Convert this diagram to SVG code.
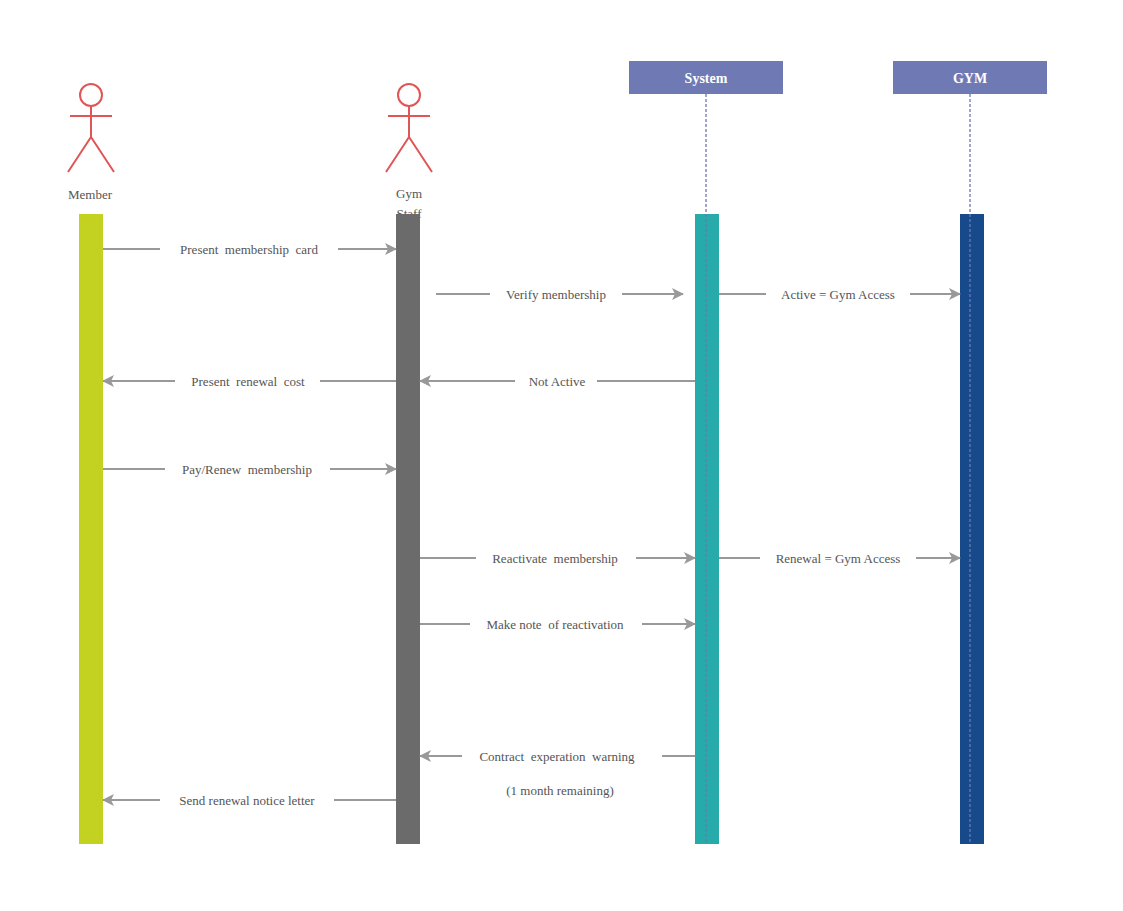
<svg xmlns="http://www.w3.org/2000/svg" width="1123" height="911" viewBox="0 0 1123 911">
<style>
text{font-family:"Liberation Serif","DejaVu Serif",serif;font-size:13px;fill:#555;text-anchor:middle}
.act{stroke:#e05555;stroke-width:2;fill:none}
.msg{stroke:#999;stroke-width:2;fill:none}
.life{stroke:#6a78b0;stroke-width:1.3;stroke-dasharray:3 2;fill:none}
.hdr{fill:#6f7ab5}
.ht{fill:#fff;font-weight:bold;font-size:14px}
</style>
<defs>
<marker id="ah" viewBox="0 0 12 12" refX="11" refY="6" markerWidth="12" markerHeight="12" markerUnits="userSpaceOnUse" orient="auto">
<path d="M0,0 L12,6 L0,12 L3,6 Z" fill="#999"/>
</marker>
</defs>
<rect width="1123" height="911" fill="#fff"/>
<g id="member">
<circle class="act" cx="91" cy="95" r="11"/>
<path class="act" d="M70,116 H112 M91,106 V137 L68,172 M91,137 L114,172"/>
<text x="90" y="199">Member</text>
<rect x="79" y="214" width="24" height="630" fill="#c3d121"/>
</g>
<g id="staff">
<circle class="act" cx="409" cy="95" r="11"/>
<path class="act" d="M388,116 H430 M409,106 V137 L386,172 M409,137 L432,172"/>
<text x="409" y="198">Gym</text>
<text x="409" y="218">Staff</text>
<rect x="396" y="214" width="24" height="630" fill="#6b6b6b"/>
</g>
<g id="system">
<rect class="hdr" x="629" y="61" width="154" height="33"/>
<text class="ht" x="706" y="83">System</text>
<rect x="695" y="214" width="24" height="630" fill="#26aaaa"/>
<path class="life" d="M706,94 V844"/>
</g>
<g id="gym">
<rect class="hdr" x="893" y="61" width="154" height="33"/>
<text class="ht" x="970" y="83">GYM</text>
<rect x="960" y="214" width="24" height="630" fill="#164a8a"/>
<path class="life" d="M970,94 V844"/>
</g>
<g id="connectors">
<path class="msg" d="M103,249 H160 M338,249 H396" marker-end="url(#ah)"/>
<path class="msg" d="M436,294 H490 M622,294 H683" marker-end="url(#ah)"/>
<path class="msg" d="M719,294 H766 M910,294 H960" marker-end="url(#ah)"/>
<path class="msg" d="M396,381 H320 M175,381 H103" marker-end="url(#ah)"/>
<path class="msg" d="M695,381 H597 M515,381 H420" marker-end="url(#ah)"/>
<path class="msg" d="M103,469 H165 M330,469 H396" marker-end="url(#ah)"/>
<path class="msg" d="M420,558 H476 M636,558 H695" marker-end="url(#ah)"/>
<path class="msg" d="M719,558 H760 M916,558 H960" marker-end="url(#ah)"/>
<path class="msg" d="M420,624 H470 M642,624 H695" marker-end="url(#ah)"/>
<path class="msg" d="M695,756 H662 M462,756 H420" marker-end="url(#ah)"/>
<path class="msg" d="M396,800 H334 M160,800 H103" marker-end="url(#ah)"/>
</g>
<g id="labels">
<text x="249" y="254" xml:space="preserve">Present  membership  card</text>
<text x="556" y="299">Verify membership</text>
<text x="838" y="299">Active = Gym Access</text>
<text x="248" y="386" xml:space="preserve">Present  renewal  cost</text>
<text x="557" y="386">Not Active</text>
<text x="247" y="474" xml:space="preserve">Pay/Renew  membership</text>
<text x="555" y="563" xml:space="preserve">Reactivate  membership</text>
<text x="838" y="563">Renewal = Gym Access</text>
<text x="555" y="629" xml:space="preserve">Make note  of reactivation</text>
<text x="557" y="761" xml:space="preserve">Contract  experation  warning</text>
<text x="560" y="795">(1 month remaining)</text>
<text x="247" y="805">Send renewal notice letter</text>
</g>
</svg>
